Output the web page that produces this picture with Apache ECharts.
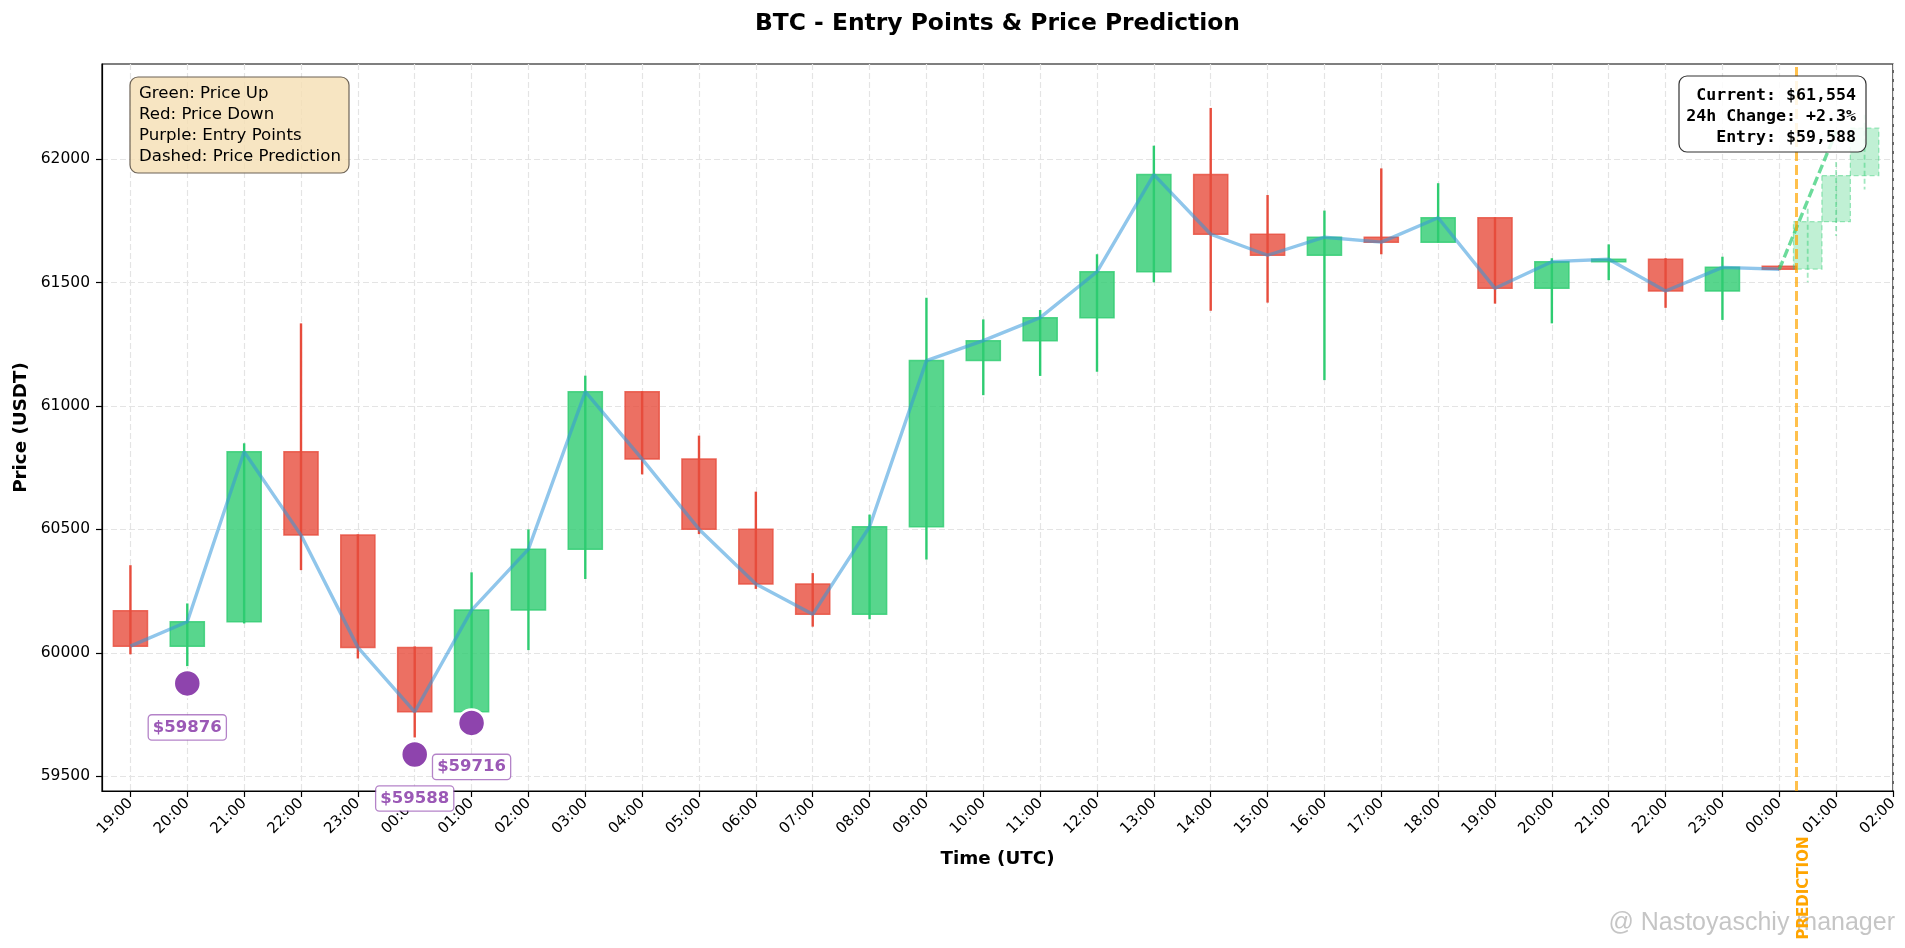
<!DOCTYPE html>
<html><head><meta charset="utf-8">
<script src="https://cdn.jsdelivr.net/npm/echarts@6/dist/echarts.min.js"></script>
<style>html,body{margin:0;padding:0;background:#fff;}#c{width:1905px;height:948px;}</style>
</head><body><div id="c"></div>
<script>
// ---------- data ----------
const xTickValues = [0,1,2,3,4,5,6,7,8,9,10,11,12,13,14,15,16,17,18,19,20,21,22,23,24,25,26,27,28,29,30,31];
const xTickLabels = ['19:00','20:00','21:00','22:00','23:00','00:00','01:00','02:00','03:00','04:00','05:00','06:00','07:00','08:00','09:00','10:00','11:00','12:00','13:00','14:00','15:00','16:00','17:00','18:00','19:00','20:00','21:00','22:00','23:00','00:00','01:00','02:00'];
const yTickValues = [59500, 60000, 60500, 61000, 61500, 62000];

const candleX = [0,1,2,3,4,5,6,7,8,9,10,11,12,13,14,15,16,17,18,19,20,21,22,23,24,25,26,27,28,29];
const opens  = [60170,60027,60126,60815,60477,60022,59761,60173,60420,61058,60785,60501,60279,60156,60511,61184,61265,61358,61544,61938,61696,61611,61684,61664,61763,61477,61585,61595,61466,61566];
const highs  = [60355,60200,60849,61335,60480,60026,60326,60500,61123,61060,60880,60653,60323,60560,61439,61351,61389,61615,62055,62208,61855,61792,61963,61903,61765,61599,61655,61599,61605,61570];
const lows   = [59994,59946,60119,60335,59977,59657,59755,60011,60299,60723,60481,60259,60106,60136,60378,61044,61122,61139,61501,61386,61419,61105,61615,61662,61415,61335,61510,61398,61349,61550];
const closes = [60027,60126,60815,60477,60022,59761,60173,60420,61058,60785,60501,60279,60156,60511,61184,61265,61358,61544,61938,61696,61611,61684,61664,61763,61477,61585,61595,61466,61562,61554];

const predX     = [29.5, 30, 30.5];
const predOpen  = [61555, 61747, 61934];
const predHigh  = [61799, 61989, 62180];
const predLow   = [61502, 61689, 61877];
const predClose = [61747, 61934, 62126];

const predLineX = [29, 30];
const predLineY = [61554, 62112];
const predStartX = 29.3;

const entryX = [1, 5, 6];
const entryY = [59876, 59588, 59716];

const legendLines = ['Green: Price Up', 'Red: Price Down', 'Purple: Entry Points', 'Dashed: Price Prediction'];
const infoLines = ['Current: $61,554', '24h Change: +2.3%', 'Entry: $59,588'];
const titleText = 'BTC - Entry Points & Price Prediction';

// ---------- chart ----------
const FONT = '"DejaVu Sans"';
const GREEN = [46,204,113], RED = [231,76,60];
const rgba = (c, a) => `rgba(${c[0]},${c[1]},${c[2]},${a})`;

function candleRenderer(bodyW, pred) {
  return function (params, api) {
    const x = api.value(0), o = api.value(1), c = api.value(2), l = api.value(3), h = api.value(4);
    const pO = api.coord([x, o]), pC = api.coord([x, c]), pL = api.coord([x, l]), pH = api.coord([x, h]);
    const w = api.size([bodyW, 0])[0];
    const col = c >= o ? GREEN : RED;
    const top = Math.min(pO[1], pC[1]), bot = Math.max(pO[1], pC[1]);
    const body = {
      type: 'rect',
      shape: { x: pO[0] - w / 2, y: top, width: w, height: Math.max(bot - top, 1.5) },
      style: pred
        ? { fill: rgba(col, 0.3), stroke: rgba(col, 0.45), lineWidth: 1.3, lineDash: [5, 3] }
        : { fill: rgba(col, 0.8), stroke: rgba(col, 0.8), lineWidth: 1.5 }
    };
    const wick = {
      type: 'line',
      shape: { x1: pH[0], y1: pH[1], x2: pL[0], y2: pL[1] },
      style: pred
        ? { stroke: rgba(col, 0.45), lineWidth: 1.8, lineDash: [5, 3] }
        : { stroke: rgba(col, 1), lineWidth: 2.4 }
    };
    return { type: 'group', children: [body, wick] };
  };
}

const chart = echarts.init(document.getElementById('c'), null, { renderer: 'canvas' });

const option = {
  animation: false,
  backgroundColor: '#fff',
  grid: { left: 102, right: 12, top: 64, bottom: 157, show: true, borderColor: '#000', borderWidth: 1.2, backgroundColor: 'transparent' },
  xAxis: {
    type: 'value', min: -0.5, max: 31,
    axisLine: { show: true, onZero: false, lineStyle: { color: '#000', width: 1.2 } },
    axisTick: { show: true, customValues: xTickValues, length: 6, lineStyle: { color: '#000', width: 1.2 } },
    axisLabel: { customValues: xTickValues, rotate: 45, margin: 10, fontSize: 15, color: '#000', fontFamily: FONT,
      formatter: v => xTickLabels[xTickValues.indexOf(Math.round(v))] },
    splitLine: { show: true, lineStyle: { color: '#e4e4e4', type: [6, 3], width: 1.2 } }
  },
  yAxis: {
    type: 'value', min: 59440, max: 62386,
    axisLine: { show: true, onZero: false, lineStyle: { color: '#000', width: 1.2 } },
    axisTick: { show: true, customValues: yTickValues, length: 6, lineStyle: { color: '#000', width: 1.2 } },
    axisLabel: { customValues: yTickValues, margin: 12, fontSize: 15.5, color: '#000', fontFamily: FONT, formatter: v => String(v) },
    splitLine: { show: true, lineStyle: { color: '#e4e4e4', type: [6, 3], width: 1.2 } }
  },
  series: [
    {
      type: 'custom', name: 'candles', z: 2, clip: true,
      renderItem: candleRenderer(0.6, false),
      encode: { x: 0, y: [1, 2, 3, 4] },
      data: candleX.map((x, i) => [x, opens[i], closes[i], lows[i], highs[i]])
    },
    {
      type: 'line', name: 'price', z: 3, symbol: 'none', showSymbol: false,
      lineStyle: { color: 'rgba(52,152,219,0.55)', width: 3.4 },
      data: candleX.map((x, i) => [x, closes[i]])
    },
    {
      type: 'custom', name: 'pred candles', z: 3, clip: true,
      renderItem: candleRenderer(0.5, true),
      encode: { x: 0, y: [1, 2, 3, 4] },
      data: predX.map((x, i) => [x, predOpen[i], predClose[i], predLow[i], predHigh[i]])
    },
    {
      type: 'line', name: 'pred line', z: 4, symbol: 'none', showSymbol: false, clip: true,
      lineStyle: { color: 'rgba(46,204,113,0.7)', width: 3.4, type: [9, 4] },
      data: predLineX.map((x, i) => [x, predLineY[i]]),
      markLine: {
        silent: true, symbol: ['none', 'none'], label: { show: false },
        lineStyle: { color: 'rgba(255,165,0,0.7)', width: 3, type: [10, 4] },
        data: [{ xAxis: predStartX }]
      }
    },
    {
      type: 'scatter', name: 'entries', z: 6, symbol: 'circle', symbolSize: 27,
      itemStyle: { color: '#8e44ad', borderColor: '#fff', borderWidth: 2.5, opacity: 1 },
      label: {
        show: true, position: 'inside', offset: [0, 44],
        formatter: p => '$' + p.value[1],
        color: '#9b59b6', fontWeight: 'bold', fontSize: 16.5, fontFamily: FONT, lineHeight: 19,
        backgroundColor: '#fff', borderColor: 'rgba(155,89,182,0.75)', borderWidth: 1.3, borderRadius: 3,
        padding: [3, 4, 2, 4]
      },
      data: entryX.map((x, i) => [x, entryY[i]])
    }
  ]
};
chart.setOption(option);

const predPx = chart.convertToPixel({ xAxisIndex: 0 }, predStartX);

chart.setOption({
  graphic: [
    { type: 'text', x: 997.5, y: 23.5, z: 100,
      style: { text: titleText, font: 'bold 23.4px ' + FONT, fill: '#000', align: 'center', verticalAlign: 'middle' } },
    { type: 'text', x: 997.5, y: 859, z: 100,
      style: { text: 'Time (UTC)', font: 'bold 18.3px ' + FONT, fill: '#000', align: 'center', verticalAlign: 'middle' } },
    { type: 'text', x: 21, y: 427.5, rotation: Math.PI / 2, z: 100,
      style: { text: 'Price (USDT)', font: 'bold 18.3px ' + FONT, fill: '#000', align: 'center', verticalAlign: 'middle' } },
    { type: 'rect', z: 100, shape: { x: 130, y: 77, width: 219, height: 96, r: 8 },
      style: { fill: 'rgba(245,222,179,0.8)', stroke: '#6d6356', lineWidth: 1.2 } },
    { type: 'text', x: 139, y: 83.5, z: 101,
      style: { text: legendLines.join('\n'), font: '16.6px ' + FONT, fill: '#000', lineHeight: 21, align: 'left', verticalAlign: 'top' } },
    { type: 'rect', z: 100, shape: { x: 1679, y: 76, width: 187, height: 76, r: 8 },
      style: { fill: 'rgba(255,255,255,0.85)', stroke: '#333', lineWidth: 1.2 } },
    { type: 'text', x: 1856, y: 85, z: 101,
      style: { text: infoLines.join('\n'), font: 'bold 16.6px "DejaVu Sans Mono"', fill: '#000', lineHeight: 21, align: 'right', verticalAlign: 'top' } },
    { type: 'text', x: predPx + 8, y: 888, rotation: Math.PI / 2, z: 100,
      style: { text: 'PREDICTION', font: 'bold 15px ' + FONT, fill: '#FFA500', align: 'center', verticalAlign: 'middle' } },
    { type: 'text', x: 1895, y: 923, z: 99,
      style: { text: '@ Nastoyaschiy manager', font: '25px "Liberation Sans"', fill: 'rgba(150,150,150,0.55)', align: 'right', verticalAlign: 'middle' } }
  ]
});
</script>
</body></html>
